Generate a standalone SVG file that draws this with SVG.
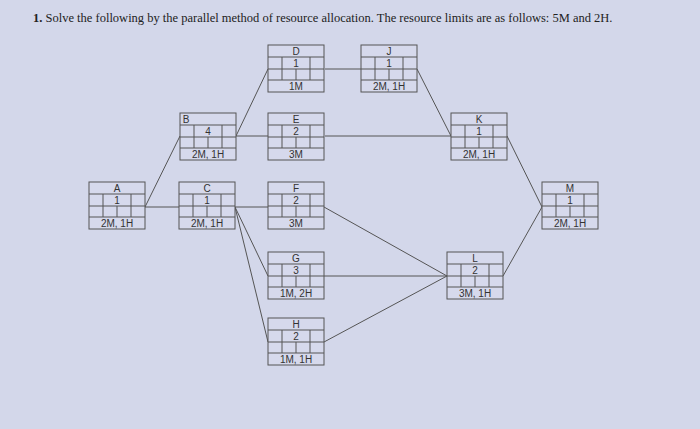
<svg xmlns="http://www.w3.org/2000/svg" xmlns:xlink="http://www.w3.org/1999/xlink" width="700" height="429" viewBox="0 0 700 429">
<style>
.bg{fill:#d3d7ea}
.box{fill:#d6d9ec;stroke:#555;stroke-width:1}
.grid{fill:none;stroke:#555;stroke-width:1}
.c{stroke:#555;stroke-width:1;fill:none}
text{font-family:"Liberation Sans",Arial,sans-serif;font-size:10px;fill:#333;text-anchor:middle}
.t{font-family:"Liberation Serif","Times New Roman",serif;font-size:12.5px;fill:#222;text-anchor:start}
</style>
<defs>
<g id="n">
<rect class="box" x="0" y="0" width="56" height="47"/>
<path class="grid" d="M0,12H56M0,24H56M0,35H56M14,12V35M42,12V35M28,24V35"/>
</g>
</defs>
<rect class="bg" width="700" height="429"/>
<text class="t" x="33" y="22"><tspan font-weight="bold">1.</tspan>  Solve the following by the parallel method of resource allocation. The resource limits are as follows: 5M and 2H.</text>
<g id="connectors">
<path class="c" d="M145,207L180,136M145,207H179M236,136L268,69M236,136H268M325,69H361M417,69L451,136M325,136H451M507,136L542,207M235,207H268M235,207L268,276M235,207L268,342M324,207L447,276M324,276H447M324,342L447,276M503,276L542,207"/>
</g>
<g id="A" transform="translate(89,182)"><use xlink:href="#n"/><text x="28" y="10">A</text><text x="28" y="22">1</text><text x="28" y="45">2M, 1H</text></g>
<g id="B" transform="translate(180,113)"><use xlink:href="#n"/><text x="6" y="10">B</text><text x="28" y="22">4</text><text x="28" y="45">2M, 1H</text></g>
<g id="C" transform="translate(179,182)"><use xlink:href="#n"/><text x="28" y="10">C</text><text x="28" y="22">1</text><text x="28" y="45">2M, 1H</text></g>
<g id="D" transform="translate(268,45)"><use xlink:href="#n"/><text x="28" y="10">D</text><text x="28" y="22">1</text><text x="28" y="45">1M</text></g>
<g id="J" transform="translate(361,45)"><use xlink:href="#n"/><text x="28" y="10">J</text><text x="28" y="22">1</text><text x="28" y="45">2M, 1H</text></g>
<g id="E" transform="translate(268,113)"><use xlink:href="#n"/><text x="28" y="10">E</text><text x="28" y="22">2</text><text x="28" y="45">3M</text></g>
<g id="K" transform="translate(451,113)"><use xlink:href="#n"/><text x="28" y="10">K</text><text x="28" y="22">1</text><text x="28" y="45">2M, 1H</text></g>
<g id="F" transform="translate(268,182)"><use xlink:href="#n"/><text x="28" y="10">F</text><text x="28" y="22">2</text><text x="28" y="45">3M</text></g>
<g id="M" transform="translate(542,182)"><use xlink:href="#n"/><text x="28" y="10">M</text><text x="28" y="22">1</text><text x="28" y="45">2M, 1H</text></g>
<g id="G" transform="translate(268,252)"><use xlink:href="#n"/><text x="28" y="10">G</text><text x="28" y="22">3</text><text x="28" y="45">1M, 2H</text></g>
<g id="L" transform="translate(447,252)"><use xlink:href="#n"/><text x="28" y="10">L</text><text x="28" y="22">2</text><text x="28" y="45">3M, 1H</text></g>
<g id="H" transform="translate(268,318)"><use xlink:href="#n"/><text x="28" y="10">H</text><text x="28" y="22">2</text><text x="28" y="45">1M, 1H</text></g>
</svg>
